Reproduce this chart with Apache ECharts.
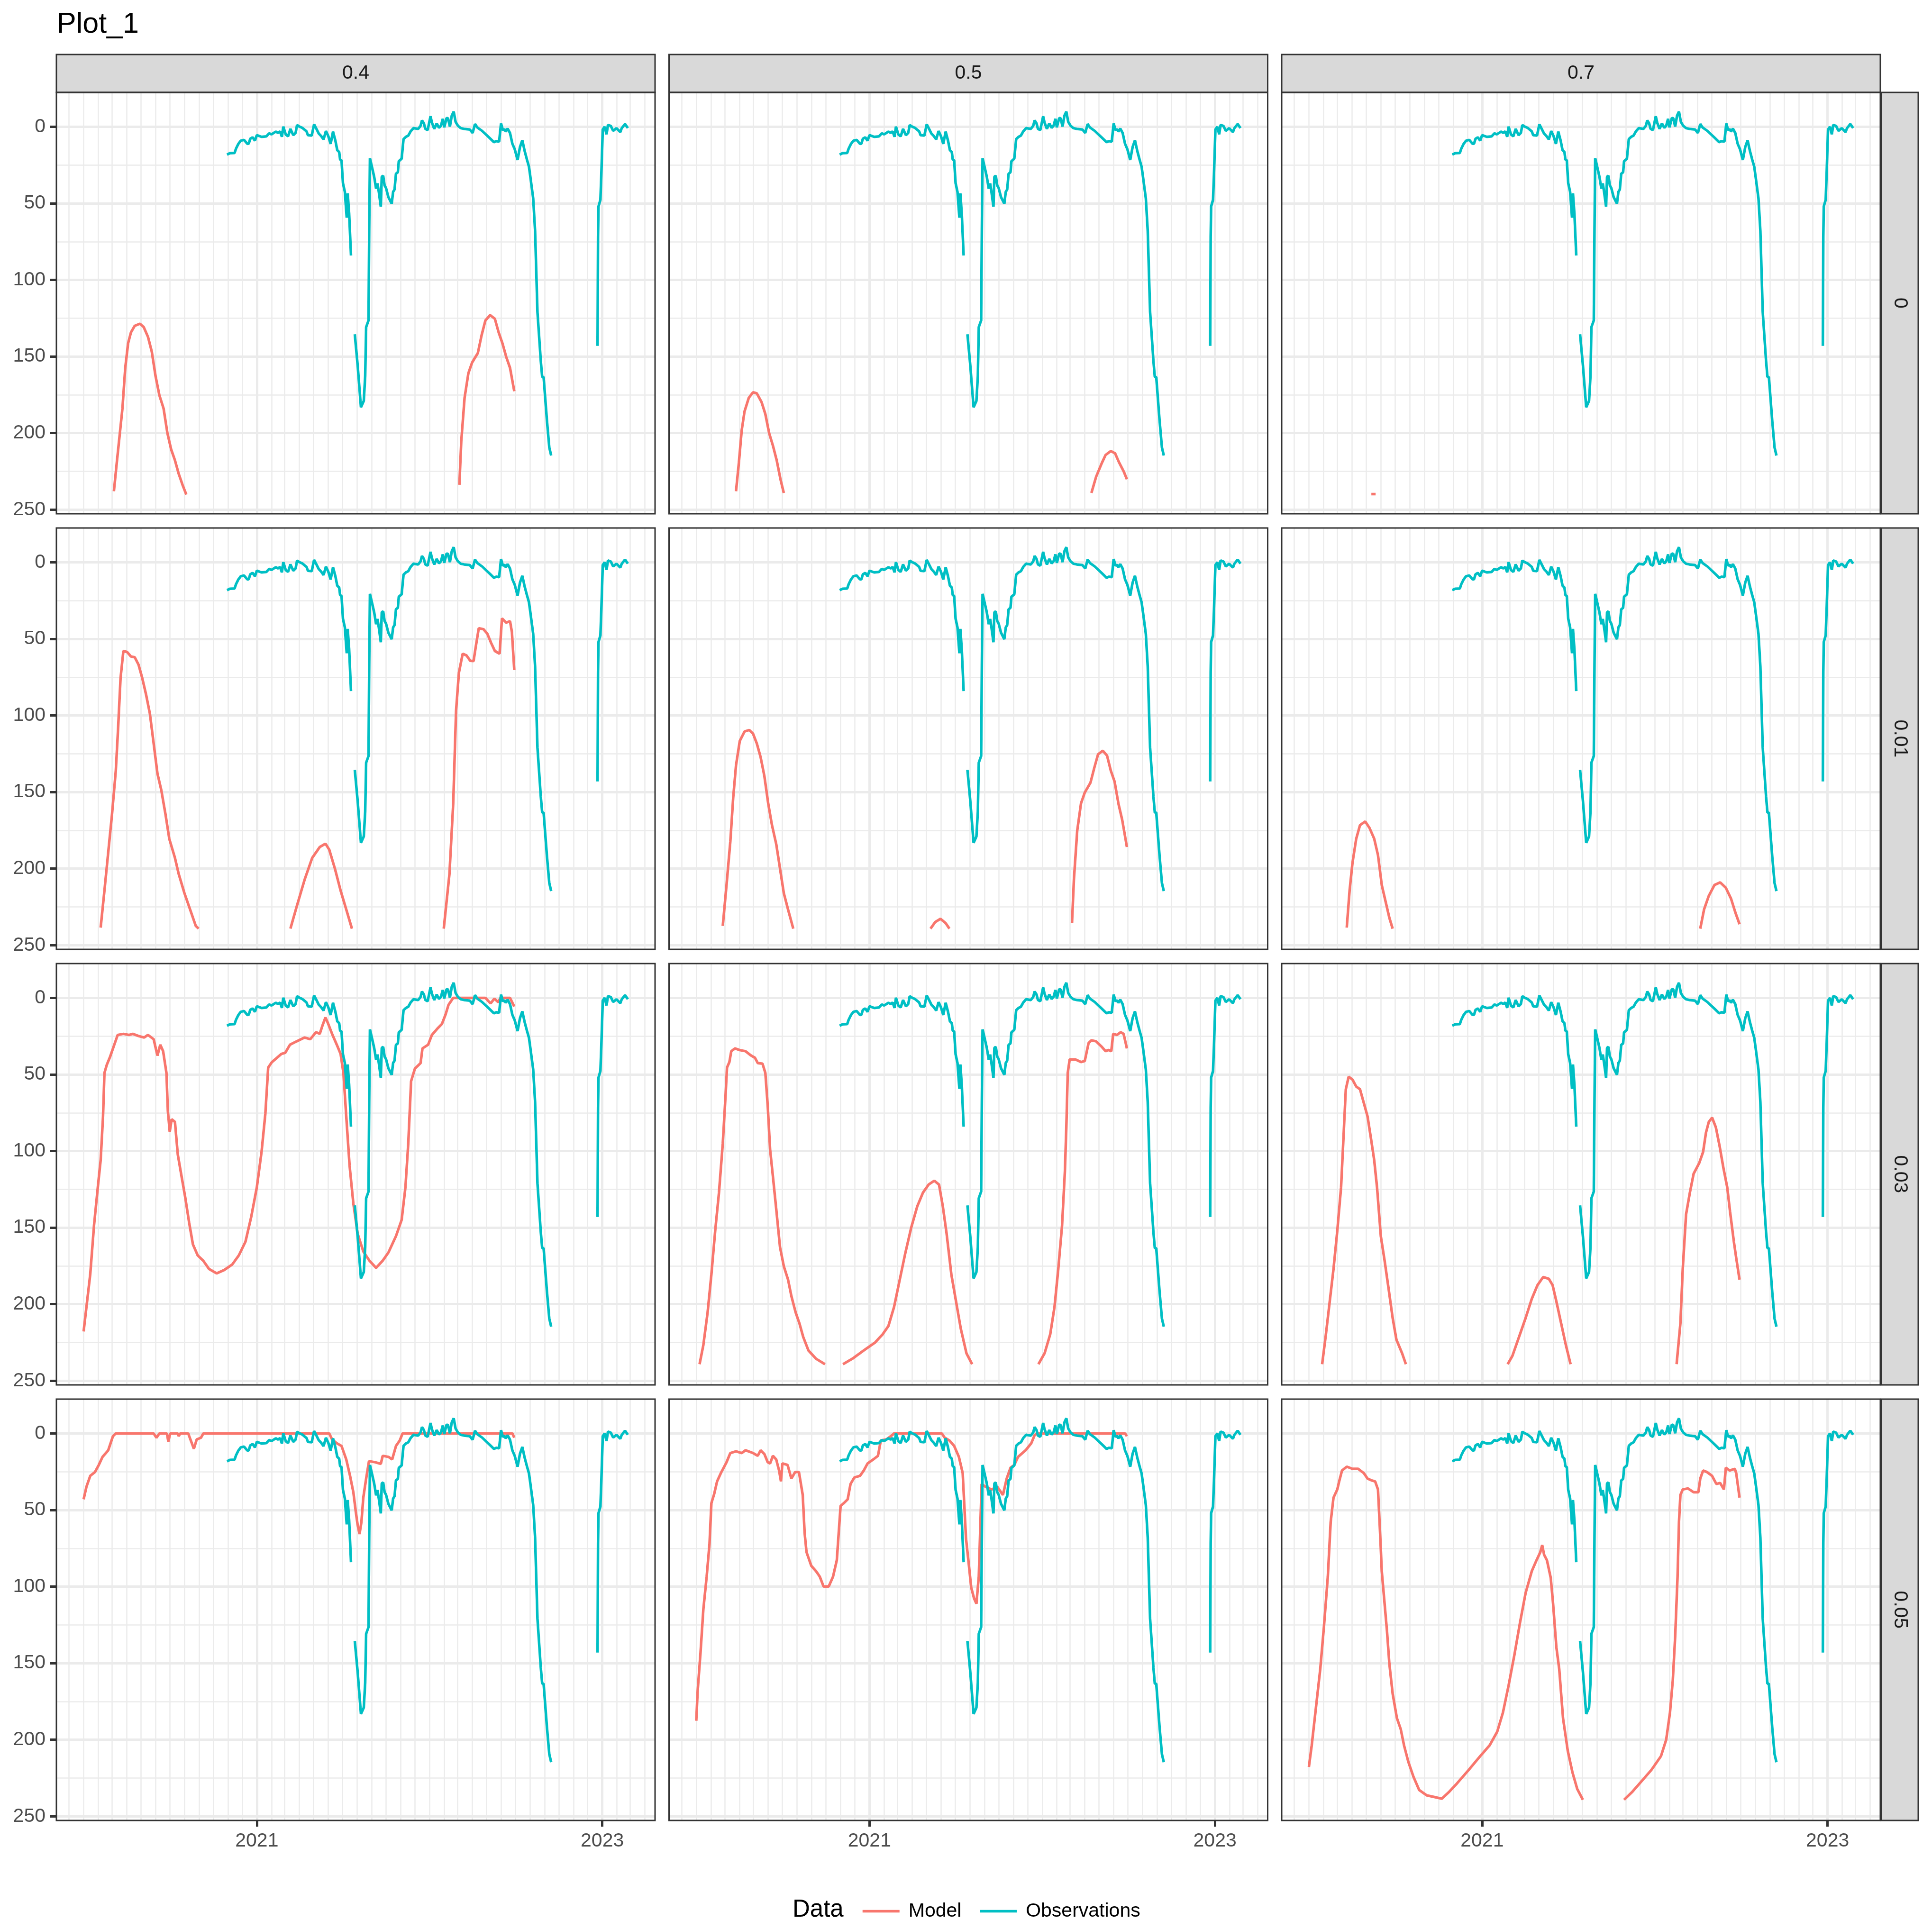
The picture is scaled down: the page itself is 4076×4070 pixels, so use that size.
<!DOCTYPE html>
<html>
<head>
<meta charset="utf-8">
<script src="https://cdn.jsdelivr.net/npm/echarts@6/dist/echarts.min.js"></script>
<style>html,body{margin:0;padding:0;background:#fff}</style>
</head>
<body>
<div id="chart" style="width:4076px;height:4070px"></div>
<script>
// ---------------- DATA ----------------
// x values are day offsets from 2021-01-01, y values are depth (reversed axis)
const colLabels = ['0.4', '0.5', '0.7'];
const rowLabels = ['0', '0.01', '0.03', '0.05'];
const yMajorTicks = [0, 50, 100, 150, 200, 250];
const yMinorTicks = [25, 75, 125, 175, 225];
const xLabelYears = [2021, 2023];

// Observations (same in every panel); null = gap in the record
const observations = [
  [-63,18.2],[-57,17.3],[-47,17.1],[-44,14.3],[-39,11.2],[-34,9.1],[-27,8.6],[-20,11.2],[-17,11],[-14,7.9],
  [-9,6.9],[-4,9.1],[0,5.5],[10,6.6],[20,6.3],[26,4.3],[31,5.0],[40,3.2],[45,4.0],[49,3.0],[53,6.6],[56,-0.1],
  [61,5.0],[66,6.3],[71,1.4],[77,5.5],[82,4.0],[85,-1.1],[90,-0.1],[96,0.7],[105,3.0],[108,5.5],[116,5.8],
  [121,-1.6],[126,1.4],[131,4.5],[136,6.1],[141,8.3],[146,2.8],[151,6.1],[156,11.2],[161,3.2],[166,9.1],
  [170,15.3],[174,16.5],[176,21.4],[179,22],[182,36.8],[186,42.5],[190,59.4],[192,43.5],[195,56.3],[199,84.1],
  null,
  [207,135.5],[213,155.6],[220,183.2],[226,179],[229,162.8],[231,130.8],[236,126.5],[237.5,66.8],[239,20.6],
  [242,24.5],[248,32.7],[252,40.4],[255,37],[258,43],[262,52.2],[264,32.7],[267,32],[270,38.4],[273,40],
  [278,46],[285,50.2],[288,42.5],[291,41],[294,30.7],[298,29.7],[300,22.5],[306,20.9],[310,8.1],[315,6.6],
  [320,5.8],[325,3.0],[331,0.9],[341,1.4],[346,-0.6],[349,-4.2],[353,-2.2],[356,1.4],[361,2.2],[367,-6.8],
  [370,-2.7],[375,1.4],[380,-2.2],[385,0.7],[389,-0.6],[393,-5.2],[396,0.4],[401,-5.7],[404,-5.5],[408,-0.1],
  [412,-7.3],[416,-9.9],[420,-3.2],[425,-0.6],[431,0.9],[438,1.4],[450,1.8],[456,4.1],[461,-1.8],[466,0.5],
  [476,2.7],[491,7.1],[501,10.1],[506,9.4],[512,9.7],[516,-2.1],[520,2.3],[523,1.5],[526,3.2],[530,1.2],
  [535,4.1],[540,11.1],[545,14.7],[551,21.7],[556,13.3],[561,8.8],[566,15.9],[571,21.7],[575,26],[578,32.7],
  [584,46.8],[588,68],[593,121],[600,152.8],[603,163.4],[606,163.4],[613,191.7],[618,209.4],[622,214.7],
  null,
  [720,143.1],[721,71.6],[722,52],[726,47.7],[728,30.9],[731,1.8],[735,0],[739,4.9],[742,-1.2],[748,-0.5],
  [753,2.7],[760,0.9],[768,3.5],[771,1],[778,-1.8],[784,0.9]
];

// Model, one list per facet (row label _ column label)
const model_0_04 = [
  [-302,238],[-296,219.6],[-290,201.8],[-284,184],[-278,157.4],[-272,141.4],[-266,134.3],[-258,130],[-247,128.6],
  [-239,130.8],[-230,137.2],[-222,146.8],[-214,162.8],[-206,175.2],[-197,184],[-189,200],[-181,210.7],[-173,217.8],
  [-165,226.7],[-157,233.8],[-149,240.2],
  null,
  [428,233.8],[432,205.4],[439,177],[447,161],[455,153.9],[467,147.8],[475,136.1],[483,126.5],[493,123],
  [503,125.4],[511,134.3],[519,141.4],[527,150.3],[535,157.4],[544,172.7]
];
const model_0_05 = [
  [-282,238],[-276,219.6],[-270,198.3],[-264,185.9],[-255,177],[-246,173.4],[-238,174.1],[-228,179.8],[-220,187.6],
  [-212,200],[-204,208.2],[-196,217.8],[-188,230.2],[-181,239.1],
  null,
  [469,239.1],[479,228.5],[491,219.6],[499,214.3],[510,211.8],[519,213.2],[527,218.9],[537,224.9],[544,230.2]
];
const model_0_07 = [[-234,239.9],[-225,239.9]];

const model_001_04 = [
  [-330,238.5],[-322,214.3],[-314,189.4],[-306,164.5],[-298,136.1],[-293,107.7],[-288,75.7],[-282,57.9],[-274,58.6],
  [-266,61.5],[-258,62],[-250,66.8],[-242,75.7],[-234,86.4],[-226,98.8],[-218,118.3],[-210,137.9],[-202,148.5],
  [-193,164.5],[-185,180.5],[-173,193],[-165,203.6],[-153,216],[-141,226.7],[-129,237.4],[-123,239.2],
  null,
  [71,239.2],[84,225],[101,207.2],[117,193],[133,185.9],[145,183.7],[153,187.6],[165,200],[177,214.3],[189,226.7],[201,239.2],
  null,
  [395,239.2],[407,203.6],[415,157.4],[421,97],[427,72.1],[435,59.7],[443,60.8],[451,64.3],[458,64.5],[463,54.4],
  [469,43],[479,43.7],[487,46.6],[495,52.6],[503,57.9],[513,59.7],[518,36.6],[527,39.4],[535,38.4],[539,45.5],[544,70.4]
];
const model_001_05 = [
  [-310,237.4],[-302,210.7],[-294,182.3],[-288,153.9],[-282,132.6],[-274,116.6],[-264,110.5],[-254,109.5],[-246,111.9],
  [-238,118.3],[-230,127.2],[-222,139.7],[-214,157.4],[-206,171.6],[-197,184],[-189,200],[-181,216],[-172,226.7],[-161,239.2],
  null,
  [129,239.2],[139,234.9],[150,232.8],[161,235.6],[169,239.2],
  null,
  [428,235.6],[432,207.2],[439,175.2],[447,157.4],[455,150.3],[467,143.9],[475,134.3],[483,125.4],[493,123],
  [502,126.2],[510,136.1],[518,143.2],[526,157.4],[534,168.1],[544,185.9]
];
const model_001_07 = [
  [-286,238.5],[-280,214.3],[-274,196.5],[-266,180.5],[-258,171.6],[-247,169.2],[-238,173.4],[-228,180.5],[-220,191.2],
  [-212,210.7],[-204,221.4],[-196,232.1],[-189,239.2],
  null,
  [461,239.2],[469,226.7],[479,217.8],[491,210.7],[503,209],[515,212.5],[526,219.6],[535,228.5],[544,236.3]
];

const model_003_04 = [
  [-366,217.8],[-360,201.8],[-352,180.5],[-344,148.5],[-336,123.7],[-330,105.9],[-325,77.5],[-322,49],[-317,43.7],
  [-310,38.4],[-302,31.3],[-294,24.2],[-282,23.5],[-270,24.2],[-262,23.5],[-250,24.9],[-238,25.9],[-230,24.2],[-218,27],
  [-210,37.7],[-204,30.6],[-198,34.8],[-191,49],[-188,73.9],[-184,87.4],[-180,79.2],[-173,81],[-167,102.3],[-159,116.6],
  [-151,130.8],[-143,146.8],[-135,161],[-125,168.1],[-113,171.7],[-101,177],[-85,179.9],[-69,177.7],[-52,174.1],
  [-38,168.1],[-24,159.2],[-12,143.2],[0,123.7],[10,100.6],[18,75.7],[24,45.5],[32,41.9],[52,36.6],[60,35.9],[70,30.6],
  [84,28.4],[101,25.9],[113,27],[125,22.4],[133,23.5],[139,17.8],[145,12.8],[150,16.3],[159,23.5],[169,30.6],[177,36.6],
  [183,49],[189,77.5],[196,109.5],[204,134.3],[213,153.9],[225,165.6],[238,171.6],[252,176.3],[266,171.6],[278,166.3],
  [294,155.6],[306,145],[314,123.7],[320,95.2],[326,54.4],[334,46.2],[346,42.6],[350,33],[362,30.6],[370,24.2],
  [382,19.9],[391,17.1],[399,10.7],[405,4.6],[415,0],[483,0],[494,3.6],[502,0.5],[510,2.8],[515,0],[535,0],[544,5.7]
];
const model_003_05 = [
  [-359,239.2],[-351,226.7],[-342,205.4],[-334,180.5],[-326,152.1],[-318,127.2],[-310,95.2],[-304,63.3],[-301,45.5],
  [-296,41.9],[-292,34.8],[-284,33],[-274,34.1],[-262,34.8],[-250,37.7],[-242,39.1],[-236,42.6],[-226,43],[-220,49],
  [-215,70.4],[-210,98.8],[-204,116.6],[-197,137.9],[-189,162.8],[-181,175.2],[-172,184],[-165,194.7],[-156,205.4],
  [-148,212.5],[-140,221.4],[-129,230.2],[-113,235.6],[-94,239.2],
  null,
  [-56,239.2],[-36,235.6],[-12,230.2],[12,225],[28,219.6],[40,214.3],[52,201.8],[64,184],[76,166.3],[88,150.3],
  [101,136.1],[113,127.2],[125,121.9],[137,119.4],[147,121.9],[155,136.1],[163,153.9],[173,180.5],[183,198.3],
  [193,216],[205,232.1],[217,239.2],
  null,
  [357,239.2],[370,232.1],[382,219.6],[391,201.8],[399,177],[407,148.5],[413,113],[416,84.6],[419,49],[423,40.2],
  [435,40.2],[447,41.9],[455,41.2],[463,29.5],[469,27.7],[479,28.4],[491,32],[499,34.8],[505,34],[511,34.8],
  [515,23.5],[523,24.2],[531,22.4],[537,23.5],[544,33]
];
const model_003_07 = [
  [-338,239.2],[-330,219.6],[-322,198.3],[-314,177],[-306,152.1],[-298,123.7],[-293,91.7],[-288,59.7],[-282,51.5],
  [-274,53.3],[-266,57.9],[-258,59.7],[-250,68.6],[-242,77.5],[-234,93.5],[-228,105.9],[-222,123.7],[-214,155.6],
  [-206,171.6],[-197,191.2],[-189,209],[-181,223.2],[-169,232.1],[-161,239.2],
  null,
  [54,239.2],[64,233.8],[76,223.2],[92,209],[105,196.5],[117,187.6],[129,182.3],[141,183.4],[149,187.6],[157,198.3],
  [167,212.5],[177,226.7],[187,239.2],
  null,
  [411,239.2],[419,212.5],[424,177],[431,141.4],[439,127.2],[447,114.8],[459,107.7],[467,100.6],[473,88.1],[479,81],
  [486,78.2],[494,84.6],[502,97],[510,111.2],[518,123.7],[524,139.7],[532,159.2],[537,169.9],[544,184]
];

const model_005_04 = [
  [-366,43],[-360,34.8],[-352,27.7],[-342,25.2],[-334,20.6],[-326,15.3],[-314,11],[-304,1.8],[-298,0],[-218,0],
  [-212,2.8],[-206,0],[-190,0],[-187,5.3],[-183,0],[-167,0],[-165,1.8],[-162,0],[-145,0],[-133,10],[-127,3.9],
  [-118,2.8],[-113,0],[153,0],[159,3.9],[169,6.4],[179,8.2],[189,17],[197,27.7],[204,38.4],[209,50.8],[213,59.7],
  [217,65.7],[221,57.9],[225,41.9],[231,29.5],[237,18.1],[250,18.8],[262,19.9],[266,14.6],[278,15.3],[286,17],
  [294,8.2],[302,4.6],[308,0],[540,0],[544,2.8]
];
const model_005_05 = [
  [-366,187.6],[-363,168.1],[-357,143.2],[-351,114.8],[-344,93.5],[-338,72.1],[-334,45.5],[-328,39.4],[-322,31.3],
  [-314,25.9],[-302,18.8],[-294,12.8],[-282,11.7],[-270,12.8],[-262,11],[-246,12.8],[-236,14.6],[-230,11],[-222,13.5],
  [-215,18.8],[-210,19.6],[-204,14.6],[-197,17],[-191,24.2],[-187,31.3],[-184,19.6],[-173,20.6],[-165,29.5],
  [-157,25.2],[-149,25.2],[-141,40.2],[-137,65],[-133,77.5],[-123,86.4],[-113,89.9],[-105,93.5],[-97,99.9],[-86,99.9],
  [-77,93.5],[-69,82.8],[-65,65],[-61,47.3],[-54,45.5],[-46,43],[-40,33],[-32,28.8],[-20,27.7],[-12,24.2],[-4,19.6],
  [8,17],[18,14.6],[24,4.6],[36,3.9],[48,1.1],[52,0],[153,0],[159,2.8],[169,4.6],[179,8.2],[189,15.3],[197,25.9],
  [204,68.6],[209,82.8],[215,100.6],[221,107.7],[226,111.2],[231,93.5],[237,33],[245,34.8],[258,36.6],[270,34.8],
  [282,40.2],[290,29.5],[298,22.4],[306,20.6],[314,15.3],[330,11],[342,6.4],[349,1.1],[354,0],[540,0],[544,1.8]
];
const model_005_07 = [
  [-366,217.8],[-360,203.6],[-351,178.7],[-342,153.9],[-334,125.4],[-326,93.5],[-320,57.9],[-314,41.9],[-306,36.6],
  [-302,31.3],[-296,24.2],[-286,21.7],[-274,23.1],[-262,23.1],[-250,25.9],[-242,29.5],[-234,30.6],[-226,31.3],
  [-220,36.6],[-215,68.6],[-212,89.9],[-207,107.7],[-201,129],[-196,150.3],[-189,169.9],[-180,185.9],[-172,193],
  [-165,203.6],[-156,214.3],[-145,224.2],[-133,232.8],[-117,236.3],[-101,237.4],[-85,238.5],[-69,233.8],[-53,228.5],
  [-28,219.6],[-4,210.7],[16,203.6],[32,194.7],[44,182.3],[56,164.5],[68,145],[80,123.7],[92,104.1],[105,89.9],
  [115,82.8],[123,77.5],[127,72.9],[131,79.2],[137,82.8],[145,94.2],[150,111.2],[157,139.7],[163,153.9],[171,185.9],
  [181,207.2],[191,221.4],[201,232.1],[213,239.2],
  null,
  [300,239.2],[318,233.8],[338,226.7],[358,219.6],[378,210.7],[389,200],[397,182.3],[403,161],[408,132.6],[413,93.5],
  [416,57.9],[419,40.2],[424,36.6],[435,35.9],[447,38.4],[457,38.4],[461,29.5],[467,24.2],[475,25.2],[486,27.7],
  [495,33],[503,32.3],[511,36.6],[515,22.4],[523,24.2],[534,23.1],[537,26],[544,41.9]
];

const modelGrid = [
  [model_0_04,   model_0_05,   model_0_07],
  [model_001_04, model_001_05, model_001_07],
  [model_003_04, model_003_05, model_003_07],
  [model_005_04, model_005_05, model_005_07]
];

// ---------------- HELPERS ----------------
const DAY = 86400000;
const ORIGIN = Date.UTC(2021, 0, 1);
const toTime = d => ORIGIN + d * DAY;
function toSeriesData(pairs) {
  const out = [];
  let lastX = null;
  for (const p of pairs) {
    if (p === null) { out.push([lastX, '-']); continue; }
    lastX = toTime(p[0]);
    out.push([lastX, p[1]]);
  }
  return out;
}

// data extents with ggplot-style 5% expansion
const allPts = [observations].concat(modelGrid.flat()).flat().filter(p => p);
let dMin = Infinity, dMax = -Infinity, vMin = Infinity, vMax = -Infinity;
allPts.forEach(p => { dMin = Math.min(dMin, p[0]); dMax = Math.max(dMax, p[0]); vMin = Math.min(vMin, p[1]); vMax = Math.max(vMax, p[1]); });
const dPad = (dMax - dMin) * 0.05, vPad = (vMax - vMin) * 0.05;
const xMin = toTime(dMin - dPad), xMax = toTime(dMax + dPad);
const yMin = vMin - vPad, yMax = vMax + vPad;

const xMajor = xLabelYears.map(y => Date.UTC(y, 0, 1));
const xMinor = [];
for (let y = 2019; y <= 2023; y++) for (let m = 0; m < 12; m++) {
  const t = Date.UTC(y, m, 1);
  if (t > xMin && t < xMax) xMinor.push(t);
}

// ---------------- LAYOUT / STYLE ----------------
const FONT = 'Liberation Sans, Arial, Helvetica, sans-serif';
const GRIDC = '#EBEBEB';
const DARK = '#333333';
const MODEL_C = '#F8766D', OBS_C = '#00BFC4';
const L0 = 119, CSTEP = 1292.5, T0 = 195, RSTEP = 919, PW = 1263, PH = 889;
const STRIP_TOP = 115, STRIP_H = 80, RSTRIP_X = 3969, RSTRIP_W = 78;

const grids = [], xAxes = [], yAxes = [], series = [], graphics = [];

for (let r = 0; r < 4; r++) {
  for (let c = 0; c < 3; c++) {
    const i = r * 3 + c;
    const left = L0 + c * CSTEP, top = T0 + r * RSTEP;
    const isBottom = r === 3, isLeft = c === 0;
    grids.push({ left, top, width: PW, height: PH, show: false, containLabel: false });

    // major x axis (index 2i)
    xAxes.push({
      type: 'value', gridIndex: i, min: xMin, max: xMax, position: 'bottom', z: 1,
      axisLine: { show: false, onZero: false },
      axisTick: { show: isBottom, length: 13, lineStyle: { color: DARK, width: 5 }, customValues: xMajor },
      axisLabel: { show: isBottom, customValues: xMajor, margin: 23, fontSize: 41, color: '#4D4D4D', fontFamily: FONT,
        formatter: v => String(new Date(v).getUTCFullYear()) },
      splitLine: { show: true, lineStyle: { color: GRIDC, width: 5 } },
      minorTick: { show: false }, minorSplitLine: { show: false }
    });
    // minor x axis (index 2i+1): monthly grid only
    xAxes.push({
      type: 'value', gridIndex: i, min: xMin, max: xMax, position: 'top', z: 0,
      axisLine: { show: false, onZero: false },
      axisTick: { show: false, customValues: xMinor },
      axisLabel: { show: false },
      splitLine: { show: true, lineStyle: { color: GRIDC, width: 2.5 } }
    });
    // major y axis
    yAxes.push({
      type: 'value', gridIndex: i, inverse: true, min: yMin, max: yMax, position: 'left', z: 1,
      axisLine: { show: false, onZero: false },
      axisTick: { show: isLeft, length: 13, lineStyle: { color: DARK, width: 5 }, customValues: yMajorTicks },
      axisLabel: { show: isLeft, customValues: yMajorTicks, margin: 23, fontSize: 41, color: '#4D4D4D', fontFamily: FONT },
      splitLine: { show: true, lineStyle: { color: GRIDC, width: 5 } },
      minorTick: { show: false }, minorSplitLine: { show: false }
    });
    // minor y axis
    yAxes.push({
      type: 'value', gridIndex: i, inverse: true, min: yMin, max: yMax, position: 'right', z: 0,
      axisLine: { show: false, onZero: false },
      axisTick: { show: false, customValues: yMinorTicks },
      axisLabel: { show: false },
      splitLine: { show: true, lineStyle: { color: GRIDC, width: 2.5 } }
    });

    series.push({
      type: 'line', name: 'Model', xAxisIndex: 2 * i, yAxisIndex: 2 * i, z: 3,
      data: toSeriesData(modelGrid[r][c]), symbol: 'none', showSymbol: false, connectNulls: false,
      lineStyle: { color: MODEL_C, width: 5.5 }, itemStyle: { color: MODEL_C }, animation: false, silent: true
    });
    series.push({
      type: 'line', name: 'Observations', xAxisIndex: 2 * i, yAxisIndex: 2 * i, z: 4,
      data: toSeriesData(observations), symbol: 'none', showSymbol: false, connectNulls: false,
      lineStyle: { color: OBS_C, width: 5.5 }, itemStyle: { color: OBS_C }, animation: false, silent: true
    });

    // panel border
    graphics.push({ type: 'rect', z: 100, silent: true,
      shape: { x: left, y: top, width: PW, height: PH },
      style: { fill: 'none', stroke: DARK, lineWidth: 3 } });
  }
}

// column strips
colLabels.forEach((lab, c) => {
  const left = L0 + c * CSTEP;
  graphics.push({ type: 'rect', z: 90, silent: true,
    shape: { x: left, y: STRIP_TOP, width: PW, height: STRIP_H },
    style: { fill: '#D9D9D9', stroke: DARK, lineWidth: 3 } });
  graphics.push({ type: 'text', z: 101, silent: true, x: left + PW / 2, y: STRIP_TOP + STRIP_H / 2,
    style: { text: lab, font: '41px ' + FONT, fill: '#1A1A1A', align: 'center', verticalAlign: 'middle' } });
});
// row strips
rowLabels.forEach((lab, r) => {
  const top = T0 + r * RSTEP;
  graphics.push({ type: 'rect', z: 90, silent: true,
    shape: { x: RSTRIP_X, y: top, width: RSTRIP_W, height: PH },
    style: { fill: '#D9D9D9', stroke: DARK, lineWidth: 3 } });
  graphics.push({ type: 'text', z: 101, silent: true, x: RSTRIP_X + RSTRIP_W / 2, y: top + PH / 2, rotation: -Math.PI / 2,
    style: { text: lab, font: '41px ' + FONT, fill: '#1A1A1A', align: 'center', verticalAlign: 'middle' } });
});
// title
graphics.push({ type: 'text', z: 101, silent: true, x: 120, y: 52,
  style: { text: 'Plot_1', font: '61px ' + FONT, fill: '#000000', align: 'left', verticalAlign: 'middle' } });
// legend title
graphics.push({ type: 'text', z: 101, silent: true, x: 1672, y: 4030,
  style: { text: 'Data', font: '51px ' + FONT, fill: '#000000', align: 'left', verticalAlign: 'middle' } });

const chart = echarts.init(document.getElementById('chart'), null, { renderer: 'canvas' });
chart.setOption({
  backgroundColor: '#ffffff',
  animation: false,
  grid: grids,
  xAxis: xAxes,
  yAxis: yAxes,
  series: series,
  legend: {
    data: ['Model', 'Observations'], orient: 'horizontal', left: 1812, top: 4007,
    itemWidth: 78, itemHeight: 40, itemGap: 36, selectedMode: false,
    itemStyle: { opacity: 0 },
    lineStyle: { width: 5.5 },
    textStyle: { fontSize: 41, color: '#000000', fontFamily: FONT, padding: [0, 0, 0, 14] }
  },
  graphic: graphics
});
</script>
</body>
</html>
